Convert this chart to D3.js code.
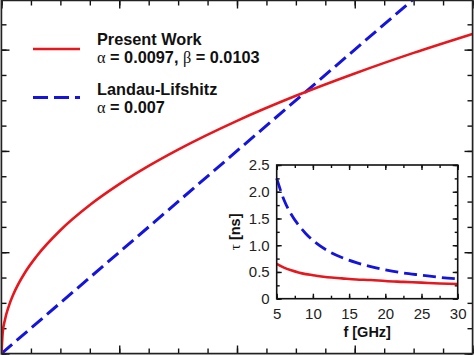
<!DOCTYPE html>
<html><head><meta charset="utf-8">
<script src="https://cdn.jsdelivr.net/npm/d3@7/dist/d3.min.js"></script>
<style>html,body{margin:0;padding:0;background:#fff;overflow:hidden}</style>
</head><body>
<svg id="c" width="474" height="355"></svg>
<script>
// ---- Main panel data (arbitrary units, no tick labels in the crop) ----
const mainX = [0, 0.01, 0.03, 0.06, 0.1, 0.2, 0.3, 0.5, 0.75, 1, 1.25, 1.5, 2, 2.5, 3, 3.5, 4];
const presentWork = [0, 0.203, 0.336, 0.461, 0.582, 0.800, 0.963, 1.217, 1.466, 1.672, 1.852, 2.013, 2.297, 2.544, 2.765, 2.968, 3.155];
const llX = [0, 4];
const landauLifshitz = [0, 4];
const mainXTicksMajor = [0, 1, 2, 3, 4];
const mainYTicksMajor = [0, 1, 2, 3];

// ---- Inset data ----
const insetF = [5, 6, 7, 8, 9, 10, 12, 14, 16, 18, 20, 22.5, 25, 27.5, 30];
const insetPresent = [0.65, 0.58, 0.53, 0.49, 0.46, 0.44, 0.40, 0.38, 0.36, 0.35, 0.33, 0.315, 0.30, 0.285, 0.275];
const insetLL = [2.25, 1.85, 1.58, 1.38, 1.22, 1.09, 0.90, 0.77, 0.675, 0.60, 0.54, 0.48, 0.44, 0.40, 0.37];
const insetXTicks = [5, 10, 15, 20, 25, 30];
const insetYTicks = [0, 0.5, 1.0, 1.5, 2.0, 2.5];
const insetYLabels = ["0", "0.5", "1.0", "1.5", "2.0", "2.5"];

const legendItems = [
  {name: "Present Work", params: [["α", " = 0.0097, "], ["β", " = 0.0103"]]},
  {name: "Landau-Lifshitz", params: [["α", " = 0.007"]]}
];

const RED = "#e8171d", BLUE = "#1414de";
const FONT = "Liberation Sans, Arial, sans-serif";
const svg = d3.select("#c");
svg.append("rect").attr("width", 474).attr("height", 355).attr("fill", "#c4c4c4");

// main frame
const L = 1.5, R = 472.5, T = 0.5, B = 353.5;
svg.append("rect").attr("x", L).attr("y", T).attr("width", R - L).attr("height", B - T).attr("fill", "#fff");
const x = d3.scaleLinear().domain([0, 4]).range([L, R]);
const y = d3.scaleLinear().domain([0, 3.5]).range([B, -1]);

svg.append("clipPath").attr("id", "mclip").append("rect")
  .attr("x", L).attr("y", T).attr("width", R - L).attr("height", B - T);

const minorX = d3.range(0, 4.001, 0.25), minorY = d3.range(0, 3.501, 0.25);
function ticks(axisFn, scale, vals, size, transform) {
  const g = svg.append("g").attr("transform", transform)
    .call(axisFn(scale).tickValues(vals).tickSize(size).tickFormat(""));
  g.select(".domain").remove();
  g.selectAll("text").remove();
  g.selectAll("line").attr("stroke", "#111").attr("stroke-width", 1.4);
}
ticks(d3.axisBottom, x, minorX, -5, `translate(0,${B})`);
ticks(d3.axisBottom, x, mainXTicksMajor, -8, `translate(0,${B})`);
ticks(d3.axisTop, x, minorX, -5, `translate(0,${T})`);
ticks(d3.axisTop, x, mainXTicksMajor, -8, `translate(0,${T})`);
ticks(d3.axisLeft, y, minorY, -5, `translate(${L},0)`);
ticks(d3.axisLeft, y, mainYTicksMajor, -8, `translate(${L},0)`);
ticks(d3.axisRight, y, minorY, -5, `translate(${R},0)`);
ticks(d3.axisRight, y, mainYTicksMajor, -8, `translate(${R},0)`);

const mg = svg.append("g").attr("clip-path", "url(#mclip)");
const line = d3.line().x(d => x(d[0])).y(d => y(d[1])).curve(d3.curveMonotoneX);
mg.append("path").datum(llX.map((v, i) => [v, landauLifshitz[i]]))
  .attr("d", d3.line().x(d => x(d[0])).y(d => y(d[1])))
  .attr("fill", "none").attr("stroke", BLUE).attr("stroke-width", 3).attr("stroke-dasharray", "14,6");
mg.append("path").datum(mainX.map((v, i) => [v, presentWork[i]]))
  .attr("d", line).attr("fill", "none").attr("stroke", RED).attr("stroke-width", 2.6);

svg.append("rect").attr("x", L).attr("y", T).attr("width", R - L).attr("height", B - T)
  .attr("fill", "none").attr("stroke", "#222").attr("stroke-width", 1.5);

// legend
const lg = svg.append("g");
const legY = [49, 97.5];
lg.append("line").attr("x1", 33).attr("x2", 80).attr("y1", legY[0]).attr("y2", legY[0])
  .attr("stroke", RED).attr("stroke-width", 2.6);
lg.append("line").attr("x1", 33).attr("x2", 80).attr("y1", legY[1]).attr("y2", legY[1])
  .attr("stroke", BLUE).attr("stroke-width", 3).attr("stroke-dasharray", "15,6");
const legBase = [44.6, 94.6];
const LFS = 16.3;
legendItems.forEach((it, i) => {
  const t = lg.append("text").attr("x", 97).attr("y", legBase[i])
    .attr("font-family", FONT).attr("font-weight", "bold")
    .attr("font-size", LFS).attr("fill", "#111");
  t.append("tspan").attr("x", 97).text(it.name);
  it.params.forEach((p, j) => {
    const a = t.append("tspan").attr("font-family", "Liberation Serif, serif").attr("font-weight", "normal")
      .attr("font-size", LFS).text(p[0]);
    if (j === 0) a.attr("x", 97).attr("dy", 18.4);
    t.append("tspan").text(p[1]);
  });
});

// ---- inset ----
const iL = 276.7, iR = 457.7, iT = 165, iB = 298.7;
const ix = d3.scaleLinear().domain([5, 30]).range([iL, iR]);
const iy = d3.scaleLinear().domain([0, 2.5]).range([iB, iT]);
svg.append("rect").attr("x", iL).attr("y", iT).attr("width", iR - iL).attr("height", iB - iT).attr("fill", "#fff");

const iMinX = d3.range(5, 30.01, 2.5), iMinY = d3.range(0, 2.501, 0.25);
ticks(d3.axisBottom, ix, iMinX, -3, `translate(0,${iB})`);
ticks(d3.axisBottom, ix, insetXTicks, -5, `translate(0,${iB})`);
ticks(d3.axisTop, ix, iMinX, -3, `translate(0,${iT})`);
ticks(d3.axisTop, ix, insetXTicks, -5, `translate(0,${iT})`);
ticks(d3.axisLeft, iy, iMinY, -3, `translate(${iL},0)`);
ticks(d3.axisLeft, iy, insetYTicks, -5, `translate(${iL},0)`);
ticks(d3.axisRight, iy, iMinY, -3, `translate(${iR},0)`);
ticks(d3.axisRight, iy, insetYTicks, -5, `translate(${iR},0)`);

const iline = d3.line().x(d => ix(d[0])).y(d => iy(d[1])).curve(d3.curveMonotoneX);
svg.append("path").datum(insetF.map((f, i) => [f, insetLL[i]]))
  .attr("d", iline).attr("fill", "none").attr("stroke", BLUE).attr("stroke-width", 2.8)
  .attr("stroke-dasharray", "13,6");
svg.append("path").datum(insetF.map((f, i) => [f, insetPresent[i]]))
  .attr("d", iline).attr("fill", "none").attr("stroke", RED).attr("stroke-width", 2.6);

svg.append("rect").attr("x", iL).attr("y", iT).attr("width", iR - iL).attr("height", iB - iT)
  .attr("fill", "none").attr("stroke", "#111").attr("stroke-width", 1.6);

// inset labels
const xl = svg.append("g").attr("transform", `translate(0,${iB})`)
  .call(d3.axisBottom(ix).tickValues(insetXTicks).tickSize(0).tickPadding(10).tickFormat(d3.format("d")));
xl.select(".domain").remove();
xl.selectAll("text").attr("font-family", FONT).attr("font-size", 15).attr("fill", "#222");
const yl = svg.append("g").attr("transform", `translate(${iL},0)`)
  .call(d3.axisLeft(iy).tickValues(insetYTicks).tickSize(0).tickPadding(7)
    .tickFormat((d, i) => insetYLabels[i]));
yl.select(".domain").remove();
yl.selectAll("text").attr("font-family", FONT).attr("font-size", 15).attr("fill", "#222");

svg.append("text").attr("x", (iL + iR) / 2).attr("y", 337).attr("text-anchor", "middle")
  .attr("font-family", FONT).attr("font-weight", "bold")
  .attr("font-size", 14.5).attr("fill", "#111").text("f [GHz]");
const yt = svg.append("text").attr("transform", `translate(240,${(iT + iB) / 2}) rotate(-90)`)
  .attr("text-anchor", "middle")
  .attr("font-family", FONT).attr("font-weight", "bold")
  .attr("font-size", 14.5).attr("fill", "#111");
yt.append("tspan").attr("font-family", "Liberation Serif, serif").attr("font-weight", "normal").attr("font-size", 15).text("τ");
yt.append("tspan").text(" [ns]");
</script>
</body></html>
